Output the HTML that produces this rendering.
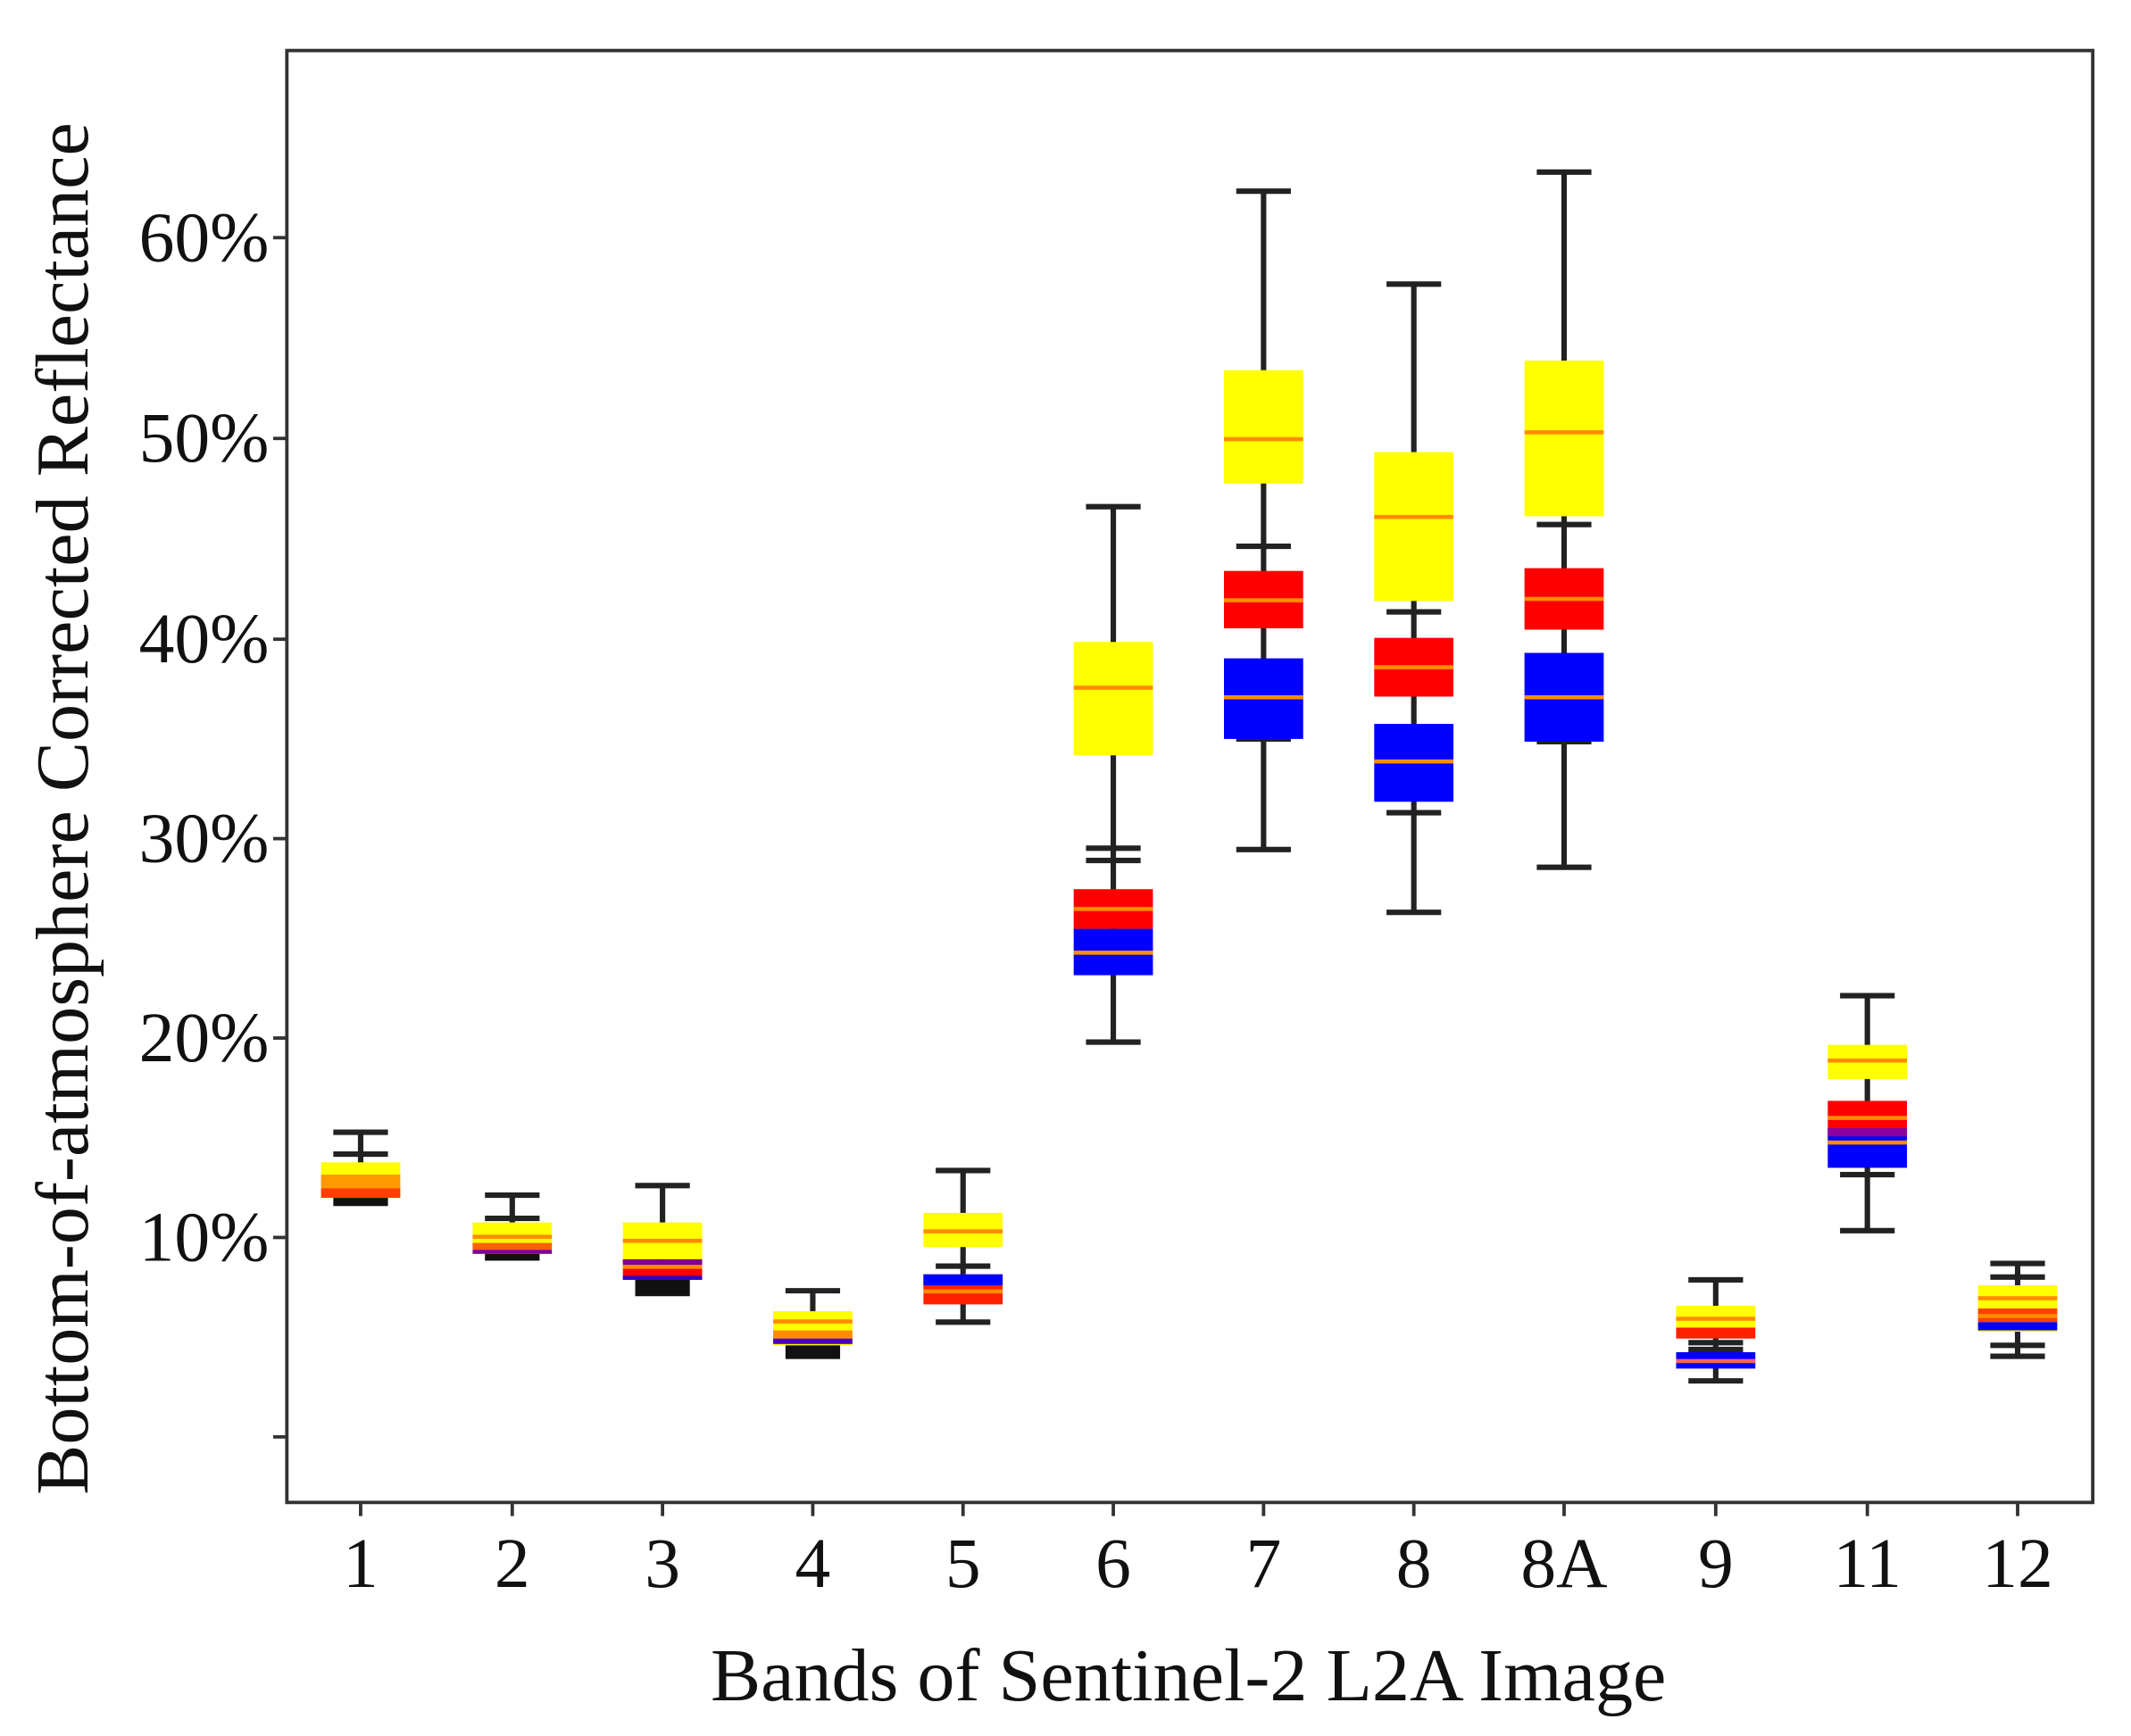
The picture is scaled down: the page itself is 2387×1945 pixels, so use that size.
<!DOCTYPE html>
<html><head><meta charset="utf-8"><style>
html,body{margin:0;padding:0;background:#fff;}
svg{display:block;}
text{font-family:"Liberation Serif",serif;fill:#111;}
</style></head><body>
<svg width="2387" height="1945" viewBox="0 0 1560 1271" preserveAspectRatio="none" xmlns="http://www.w3.org/2000/svg">
<rect width="1560" height="1271" fill="#fff"/>
<rect x="210" y="37" width="1322" height="1063" fill="none" stroke="#333" stroke-width="2.5"/>
<g stroke="#333" stroke-width="2.5">
<line x1="200" y1="174" x2="210" y2="174"/><line x1="200" y1="321" x2="210" y2="321"/>
<line x1="200" y1="468" x2="210" y2="468"/><line x1="200" y1="614" x2="210" y2="614"/>
<line x1="200" y1="760" x2="210" y2="760"/><line x1="200" y1="906" x2="210" y2="906"/>
<line x1="200" y1="1052" x2="210" y2="1052"/>
<line x1="264" y1="1100" x2="264" y2="1110"/><line x1="375" y1="1100" x2="375" y2="1110"/>
<line x1="485" y1="1100" x2="485" y2="1110"/><line x1="595" y1="1100" x2="595" y2="1110"/>
<line x1="705" y1="1100" x2="705" y2="1110"/><line x1="815" y1="1100" x2="815" y2="1110"/>
<line x1="925" y1="1100" x2="925" y2="1110"/><line x1="1035" y1="1100" x2="1035" y2="1110"/>
<line x1="1145" y1="1100" x2="1145" y2="1110"/><line x1="1256" y1="1100" x2="1256" y2="1110"/>
<line x1="1367" y1="1100" x2="1367" y2="1110"/><line x1="1477" y1="1100" x2="1477" y2="1110"/>
</g>
<g font-size="52" text-anchor="end">
<text x="197" y="191">60%</text><text x="197" y="338">50%</text><text x="197" y="485">40%</text>
<text x="197" y="631">30%</text><text x="197" y="777">20%</text><text x="197" y="923">10%</text>
</g>
<g font-size="52" text-anchor="middle">
<text x="264" y="1162">1</text><text x="375" y="1162">2</text><text x="485" y="1162">3</text>
<text x="595" y="1162">4</text><text x="705" y="1162">5</text><text x="815" y="1162">6</text>
<text x="925" y="1162">7</text><text x="1035" y="1162">8</text><text x="1145" y="1162">8A</text>
<text x="1256" y="1162">9</text><text x="1367" y="1162">11</text><text x="1477" y="1162">12</text>
</g>
<text x="870" y="1245" font-size="55" text-anchor="middle">Bands of Sentinel-2 L2A Image</text>
<text transform="translate(64,592) rotate(-90)" font-size="55" text-anchor="middle">Bottom-of-atmosphere Corrected Reflectance</text>

<g stroke="#222" stroke-width="4">
<line x1="815" y1="371" x2="815" y2="763"/>
<line x1="795" y1="371" x2="835" y2="371"/><line x1="795" y1="621" x2="835" y2="621"/><line x1="795" y1="630" x2="835" y2="630"/><line x1="795" y1="763" x2="835" y2="763"/>
<line x1="925" y1="140" x2="925" y2="622"/>
<line x1="905" y1="140" x2="945" y2="140"/><line x1="905" y1="400" x2="945" y2="400"/><line x1="905" y1="541" x2="945" y2="541"/><line x1="905" y1="622" x2="945" y2="622"/>
<line x1="1035" y1="208" x2="1035" y2="668"/>
<line x1="1015" y1="208" x2="1055" y2="208"/><line x1="1015" y1="448" x2="1055" y2="448"/><line x1="1015" y1="595" x2="1055" y2="595"/><line x1="1015" y1="668" x2="1055" y2="668"/>
<line x1="1145" y1="126" x2="1145" y2="635"/>
<line x1="1125" y1="126" x2="1165" y2="126"/><line x1="1125" y1="384" x2="1165" y2="384"/><line x1="1125" y1="543" x2="1165" y2="543"/><line x1="1125" y1="635" x2="1165" y2="635"/>
<line x1="1256" y1="937" x2="1256" y2="1011"/>
<line x1="1236" y1="937" x2="1276" y2="937"/><line x1="1236" y1="983" x2="1276" y2="983"/><line x1="1236" y1="988" x2="1276" y2="988"/><line x1="1236" y1="1011" x2="1276" y2="1011"/>
<line x1="1367" y1="729" x2="1367" y2="901"/>
<line x1="1347" y1="729" x2="1387" y2="729"/><line x1="1347" y1="860" x2="1387" y2="860"/><line x1="1347" y1="901" x2="1387" y2="901"/>
<line x1="1477" y1="925" x2="1477" y2="993"/>
<line x1="1457" y1="925" x2="1497" y2="925"/><line x1="1457" y1="935" x2="1497" y2="935"/><line x1="1457" y1="985" x2="1497" y2="985"/><line x1="1457" y1="993" x2="1497" y2="993"/>
<line x1="264" y1="829" x2="264" y2="882"/>
<line x1="244" y1="829" x2="284" y2="829"/><line x1="244" y1="845" x2="284" y2="845"/>
<rect x="244" y="875" width="40" height="8" fill="#111" stroke="none"/>
<line x1="375" y1="875" x2="375" y2="922"/>
<line x1="355" y1="875" x2="395" y2="875"/><line x1="355" y1="892" x2="395" y2="892"/>
<rect x="355" y="915" width="40" height="8" fill="#111" stroke="none"/>
<line x1="485" y1="868" x2="485" y2="948"/>
<line x1="465" y1="868" x2="505" y2="868"/>
<rect x="465" y="935" width="40" height="14" fill="#111" stroke="none"/>
<line x1="595" y1="945" x2="595" y2="993"/>
<line x1="575" y1="945" x2="615" y2="945"/>
<rect x="575" y="983" width="40" height="12" fill="#111" stroke="none"/>
<line x1="705" y1="857" x2="705" y2="968"/>
<line x1="685" y1="857" x2="725" y2="857"/><line x1="685" y1="927" x2="725" y2="927"/><line x1="685" y1="968" x2="725" y2="968"/>
</g>

<g>
<rect x="786" y="470" width="58" height="83" fill="#ffff00"/><rect x="786" y="502" width="58" height="3" fill="#ff8c00"/>
<rect x="786" y="651" width="58" height="29" fill="#ff0000"/><rect x="786" y="664" width="58" height="3" fill="#ff8c00"/>
<rect x="786" y="680" width="58" height="34" fill="#0000ff"/><rect x="786" y="696" width="58" height="3" fill="#ff8c00"/>
<rect x="896" y="271" width="58" height="83" fill="#ffff00"/><rect x="896" y="320" width="58" height="3" fill="#ff8c00"/>
<rect x="896" y="418" width="58" height="42" fill="#ff0000"/><rect x="896" y="438" width="58" height="3" fill="#ff8c00"/>
<rect x="896" y="482" width="58" height="59" fill="#0000ff"/><rect x="896" y="509" width="58" height="3" fill="#ff8c00"/>
<rect x="1006" y="331" width="58" height="109" fill="#ffff00"/><rect x="1006" y="377" width="58" height="3" fill="#ff8c00"/>
<rect x="1006" y="467" width="58" height="43" fill="#ff0000"/><rect x="1006" y="487" width="58" height="3" fill="#ff8c00"/>
<rect x="1006" y="530" width="58" height="57" fill="#0000ff"/><rect x="1006" y="556" width="58" height="3" fill="#ff8c00"/>
<rect x="1116" y="264" width="58" height="114" fill="#ffff00"/><rect x="1116" y="315" width="58" height="3" fill="#ff8c00"/>
<rect x="1116" y="416" width="58" height="45" fill="#ff0000"/><rect x="1116" y="437" width="58" height="3" fill="#ff8c00"/>
<rect x="1116" y="478" width="58" height="65" fill="#0000ff"/><rect x="1116" y="509" width="58" height="3" fill="#ff8c00"/>
<rect x="1227" y="956" width="58" height="22" fill="#ffff00"/><rect x="1227" y="964" width="58" height="3" fill="#ff8c00"/>
<rect x="1227" y="972" width="58" height="8" fill="#ff2000"/>
<rect x="1227" y="990" width="58" height="12" fill="#0000ff"/><rect x="1227" y="995" width="58" height="3" fill="#ff6060"/>
<rect x="1338" y="765" width="58" height="25" fill="#ffff00"/><rect x="1338" y="775" width="58" height="3" fill="#ff8c00"/>
<rect x="1338" y="806" width="58" height="20" fill="#ff0000"/><rect x="1338" y="817" width="58" height="3" fill="#ff8c00"/>
<rect x="1338" y="826" width="58" height="29" fill="#0000ff"/><rect x="1338" y="826" width="58" height="6" fill="#8a00a0"/><rect x="1338" y="835" width="58" height="3" fill="#ff8c00"/>
<rect x="1448" y="941" width="58" height="34" fill="#ffff00"/><rect x="1448" y="949" width="58" height="3" fill="#ff8c00"/>
<rect x="1448" y="958" width="58" height="10" fill="#ff4000"/><rect x="1448" y="962" width="58" height="3" fill="#ff8c00"/>
<rect x="1448" y="968" width="58" height="6" fill="#0000ff"/>
<rect x="235" y="851" width="58" height="26" fill="#ffff00"/><rect x="235" y="860" width="58" height="10" fill="#ff9900"/><rect x="235" y="870" width="58" height="7" fill="#ff4000"/>
<rect x="346" y="895" width="58" height="23" fill="#ffff00"/><rect x="346" y="904" width="58" height="3" fill="#ff8c00"/><rect x="346" y="910" width="58" height="5" fill="#ff6000"/><rect x="346" y="915" width="58" height="3" fill="#8000a0"/>
<rect x="456" y="895" width="58" height="27" fill="#ffff00"/><rect x="456" y="907" width="58" height="3" fill="#ff8c00"/>
<rect x="456" y="922" width="58" height="15" fill="#ff0000"/><rect x="456" y="922" width="58" height="4" fill="#800080"/><rect x="456" y="926" width="58" height="3" fill="#ff8c00"/><rect x="456" y="934" width="58" height="3" fill="#3000c0"/>
<rect x="566" y="960" width="58" height="25" fill="#ffff00"/><rect x="566" y="966" width="58" height="3" fill="#ff8c00"/><rect x="566" y="974" width="58" height="6" fill="#ff8c00"/><rect x="566" y="980" width="58" height="4" fill="#5000c0"/>
<rect x="676" y="888" width="58" height="25" fill="#ffff00"/><rect x="676" y="900" width="58" height="3" fill="#ff8c00"/>
<rect x="676" y="933" width="58" height="22" fill="#ff2000"/><rect x="676" y="933" width="58" height="8" fill="#0000ff"/><rect x="676" y="944" width="58" height="3" fill="#ff8c00"/>
</g>
</svg>
</body></html>
